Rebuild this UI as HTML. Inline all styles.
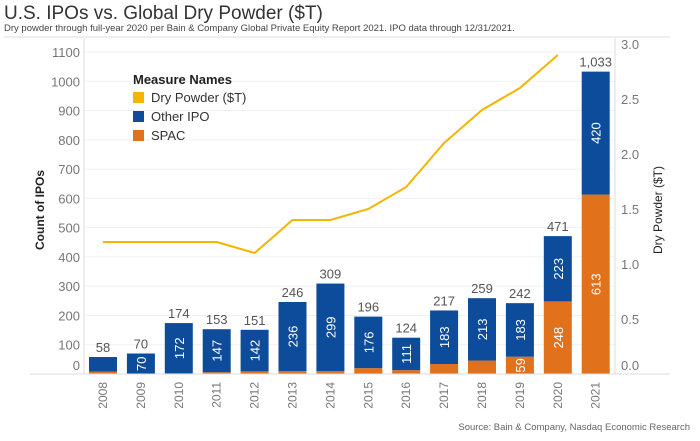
<!DOCTYPE html>
<html><head><meta charset="utf-8"><style>
body{margin:0;background:#fff;font-family:"Liberation Sans",sans-serif}
svg text{font-family:"Liberation Sans",sans-serif}
</style></head><body>
<svg id="c" width="700" height="436" viewBox="0 0 700 436">
<text x="4" y="19" font-size="19" fill="#333">U.S. IPOs vs. Global Dry Powder ($T)</text>
<text x="4" y="31" font-size="9.5" fill="#444">Dry powder through full-year 2020 per Bain &amp; Company Global Private Equity Report 2021. IPO data through 12/31/2021.</text>
<line x1="4" y1="37" x2="670" y2="37" stroke="#ddd"/>
<g id="grid"></g>
<g id="bars"></g>
<g id="line"></g>
<g id="axes"></g>
<text transform="translate(44,210) rotate(-90)" text-anchor="middle" font-size="12" font-weight="bold" fill="#222">Count of IPOs</text>
<text transform="translate(662,210) rotate(-90)" text-anchor="middle" font-size="12" fill="#222">Dry Powder ($T)</text>
<g>
<text x="133" y="84" font-size="13" font-weight="bold" fill="#222">Measure Names</text>
<rect x="133" y="92" width="11" height="11" fill="#f5b400"/>
<text x="151" y="102" font-size="13" fill="#333">Dry Powder ($T)</text>
<rect x="133" y="111" width="11" height="11" fill="#0d4c9a"/>
<text x="151" y="121" font-size="13" fill="#333">Other IPO</text>
<rect x="133" y="130" width="11" height="11" fill="#e2711c"/>
<text x="151" y="140" font-size="13" fill="#333">SPAC</text>
</g>
<text x="690" y="430" text-anchor="end" font-size="9.5" fill="#666">Source: Bain &amp; Company, Nasdaq Economic Research</text>
</svg>
<script>
const years=["2008","2009","2010","2011","2012","2013","2014","2015","2016","2017","2018","2019","2020","2021"];
const spac=[8,0,2,6,9,10,10,20,13,34,46,59,248,613];
const other=[50,70,172,147,142,236,299,176,111,183,213,183,223,420];
const totals=[58,70,174,153,151,246,309,196,124,217,259,242,471,1033];
const dryPowder=[1.2,1.2,1.2,1.2,1.1,1.4,1.4,1.5,1.7,2.1,2.4,2.6,2.9,null];
const leftTicks=[0,100,200,300,400,500,600,700,800,900,1000,1100];
const rightTicks=[0,0.5,1,1.5,2,2.5,3];
const showSeg={other:[false,true,true,true,true,true,true,true,true,true,true,true,true,true],spac:[false,false,false,false,false,false,false,false,false,false,false,true,true,true]};
const NS="http://www.w3.org/2000/svg";
const base=374,x0=103,step=37.9,bw=28;
const yL=v=>base-v*(322/1100);
const yR=v=>base-v*110;
const xC=i=>x0+i*step;
function mk(p,t,a){const e=document.createElementNS(NS,t);for(const k in a)e.setAttribute(k,a[k]);p.appendChild(e);return e;}
const grid=document.getElementById('grid'),bars=document.getElementById('bars'),line=document.getElementById('line'),axes=document.getElementById('axes');
leftTicks.forEach(v=>{
 if(v>0){const g=mk(grid,'line',{x1:84,x2:615,y1:yL(v),y2:yL(v),stroke:'#f0f0f0'});
 
 }
 const t=mk(axes,'text',{x:80,y:(v===0?yL(v)-4:yL(v)+5),'text-anchor':'end','font-size':13,fill:'#777'});t.textContent=v;
 
 
});
rightTicks.forEach(v=>{
 const t=mk(axes,'text',{x:621,y:(v===0?yR(v)-4:yR(v)+5),'font-size':13,fill:'#777'});t.textContent=v.toFixed(1);
 
 
});
let a=mk(axes,'line',{x1:84,x2:84,y1:38,y2:base,stroke:'#ddd'});


a=mk(axes,'line',{x1:615,x2:615,y1:38,y2:base,stroke:'#ddd'});


a=mk(axes,'line',{x1:30,x2:670,y1:base,y2:base,stroke:'#ddd'});


years.forEach((y,i)=>{
 const x=xC(i);
 const s=mk(bars,'rect',{x:x-bw/2,y:yL(spac[i]),width:bw,height:base-yL(spac[i]),fill:'#e2711c'});
 
 
 const o=mk(bars,'rect',{x:x-bw/2,y:yL(spac[i]+other[i]),width:bw,height:yL(spac[i])-yL(spac[i]+other[i]),fill:'#0d4c9a'});
 
 
 const tt=mk(bars,'text',{x:x,y:yL(totals[i])-5,'text-anchor':'middle','font-size':13,fill:'#555'});
 tt.textContent=totals[i].toLocaleString('en-US');
 
 
 if(showSeg.other[i]){const cy=(yL(spac[i])+yL(spac[i]+other[i]))/2;
  const l=mk(bars,'text',{transform:`translate(${x+5},${cy}) rotate(-90)`,'text-anchor':'middle','font-size':13,fill:'#fff'});l.textContent=other[i];
  
  }
 if(showSeg.spac[i]){const cy=(base+yL(spac[i]))/2;
  const l=mk(bars,'text',{transform:`translate(${x+5},${cy}) rotate(-90)`,'text-anchor':'middle','font-size':13,fill:'#fff'});l.textContent=spac[i];
  
  }
 const yl=mk(axes,'text',{transform:`translate(${x+4},${base+8}) rotate(-90)`,'text-anchor':'end','font-size':12,fill:'#777'});yl.textContent=y;
 
 
});
const pts=dryPowder.map((v,i)=>v==null?null:`${xC(i)},${yR(v)}`).filter(p=>p).join(' ');
const pl=mk(line,'polyline',{points:pts,fill:'none',stroke:'#f5b400','stroke-width':2});


</script>
</body></html>
